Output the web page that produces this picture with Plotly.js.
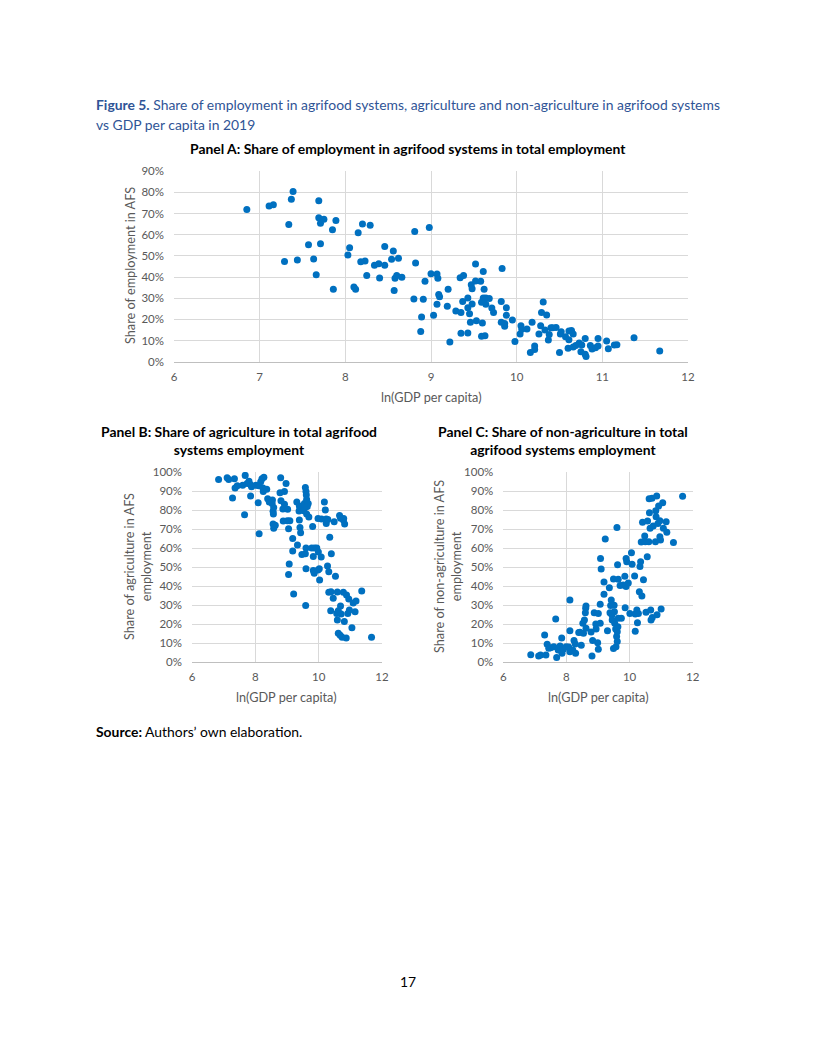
<!DOCTYPE html>
<html>
<head>
<meta charset="utf-8">
<script src="https://cdn.plot.ly/plotly-3.0.1.min.js"></script>
<style>
html,body{margin:0;padding:0;background:#fff;}
#chart{width:816px;height:1056px;}
</style>
</head>
<body>
<div id="chart"></div>
<script>
// Panel A: share of employment in AFS in total employment (%), vs ln(GDP per capita)
const panelA_x = [6.85,7.11,7.16,7.39,7.37,7.34,7.29,7.44,7.57,7.63,7.66,7.69,7.69,7.71,7.75,7.71,7.85,7.89,7.86,8.03,8.05,8.15,8.20,8.29,8.18,8.23,8.10,8.12,8.25,8.34,8.39,8.40,8.46,8.46,8.56,8.54,8.62,8.58,8.60,8.66,8.57,8.81,8.82,8.80,
8.98,9.00,9.07,9.08,8.93,8.91,8.89,8.88,9.03,9.07,9.09,9.10,9.20,9.19,9.22,9.29,9.35,9.34,9.38,9.37,9.43,9.43,9.45,9.48,9.47,9.48,9.52,9.52,9.58,9.61,9.62,9.61,9.64,9.59,9.64,9.68,9.71,9.73,9.46,9.53,9.60,9.35,9.43,9.59,9.63,9.82,9.83,9.88,9.88,9.82,9.86,9.86,9.95,9.98,10.05,10.04,10.06,10.12,10.18,10.16,10.21,10.21,10.26,10.31,10.29,10.35,10.28,10.33,10.40,10.37,10.38,10.42,10.46,10.51,10.52,10.50,10.57,10.61,10.64,10.66,10.61,10.60,10.66,10.69,10.73,10.75,10.76,10.80,10.81,10.80,10.86,10.88,10.92,10.95,10.95,11.05,11.07,11.14,11.17,11.37,11.67];
const panelA_y = [72.0,73.6,74.2,80.5,76.8,64.9,47.4,48.1,55.3,48.5,41.1,76.1,68.1,65.4,67.3,55.8,62.4,66.8,34.2,50.4,53.9,61.0,65.1,64.5,47.3,47.6,35.3,34.2,40.7,45.6,46.3,39.6,54.5,45.6,52.3,48.4,48.9,39.4,40.7,39.9,33.6,61.5,46.7,29.6,
63.4,41.6,41.5,39.4,38.0,29.5,21.1,14.3,21.9,27.1,31.8,30.7,34.2,26.2,9.3,24.0,23.3,39.7,40.8,28.5,30.1,25.5,22.7,27.3,36.4,34.5,46.2,38.1,38.0,42.6,34.2,30.1,30.1,28.1,27.1,29.9,25.4,23.2,18.6,19.4,18.3,13.4,13.6,12.0,12.3,28.4,44.1,25.5,21.9,18.6,18.1,16.7,19.7,9.5,17.0,13.1,15.3,15.4,18.6,4.3,7.4,5.8,13.1,28.2,23.3,22.1,17.0,15.0,16.1,10.2,12.8,16.1,16.2,13.1,14.2,4.4,11.8,14.5,14.7,13.1,10.4,6.3,6.9,7.7,8.8,4.7,7.9,11.0,2.4,3.5,7.6,6.0,6.6,7.4,11.0,9.8,6.1,7.9,8.0,11.3,5.0];

// Panel B: share of agriculture in total AFS employment (%)
const panelB_x = [6.84,7.11,7.16,7.34,7.28,7.36,7.43,7.68,7.66,7.60,7.74,7.80,7.86,7.88,7.85,8.02,8.11,8.09,8.12,8.17,8.21,8.27,8.24,8.25,8.36,8.39,8.44,8.53,8.54,8.56,8.58,8.57,8.56,8.63,8.58,8.80,8.97,8.78,8.92,8.81,8.92,8.87,9.02,8.88,9.01,9.09,9.05,9.07,9.05,9.18,9.18,9.21,9.33,9.31,9.39,9.38,9.39,9.41,9.43,9.47,9.45,9.49,9.53,9.55,9.58,9.60,9.61,9.62,9.64,9.62,9.58,9.60,9.59,9.60,9.67,9.69,9.81,9.78,9.83,9.87,9.83,9.86,9.94,9.99,9.98,10.02,10.03,9.98,10.09,10.08,10.18,10.21,10.24,10.24,10.29,10.28,10.32,10.35,10.32,10.40,10.39,10.38,10.46,10.49,10.53,10.59,10.57,10.59,10.62,10.62,10.66,10.69,10.69,10.71,10.68,10.74,10.78,10.82,10.79,10.78,10.81,10.87,10.88,10.92,10.95,10.97,11.05,11.09,11.15,11.18,11.36,11.67];
const panelB_y = [96.1,97.0,96.0,96.5,86.3,91.6,92.8,98.2,77.6,93.0,94.0,95.1,93.2,92.3,87.4,93.0,92.8,83.9,67.6,94.9,96.5,97.2,91.6,89.7,90.9,86.0,84.2,83.5,85.3,79.4,81.4,77.9,72.7,72.0,70.4,97.0,94.0,89.1,89.7,84.9,83.0,80.6,80.4,74.3,74.4,74.4,70.2,51.7,46.1,65.0,58.5,35.9,61.6,84.2,82.1,79.5,74.8,70.9,68.1,56.7,81.4,82.1,79.6,83.5,91.9,89.8,87.9,85.6,81.8,77.9,57.0,60.0,29.8,49.2,83.4,76.4,71.3,60.0,55.6,60.0,48.2,46.8,60.1,58.0,48.5,49.2,43.3,75.5,75.3,55.3,84.2,80.0,75.3,73.0,75.1,50.6,47.6,65.7,36.8,57.1,37.1,27.1,33.6,73.9,45.2,36.9,25.7,22.2,15.2,27.1,77.2,75.7,29.6,25.4,14.2,13.1,74.8,72.7,75.5,36.8,21.5,12.8,35.4,25.7,33.3,27.5,18.2,31.2,26.6,32.2,37.5,13.1];

// Panel C: share of non-agriculture in total AFS employment (%)
const panelC_x = [6.87,7.12,7.18,7.31,7.35,7.39,7.44,7.50,7.66,7.60,7.69,7.74,7.80,7.85,7.86,7.90,7.99,8.11,8.11,8.07,8.11,8.20,8.24,8.29,8.28,8.39,8.43,8.47,8.52,8.57,8.60,8.61,8.62,8.54,8.62,8.78,8.81,8.83,8.88,8.93,8.99,8.94,9.01,9.01,9.07,9.07,9.08,9.10,9.19,9.19,9.23,9.30,9.36,9.38,9.40,9.42,9.44,9.45,9.49,9.49,9.51,9.52,9.53,9.56,9.57,9.59,9.61,9.61,9.63,9.64,9.60,9.62,9.64,9.70,9.74,9.80,9.85,9.86,9.89,9.89,9.91,9.96,10.01,10.06,10.08,10.16,10.18,10.18,10.23,10.25,10.28,10.31,10.33,10.35,10.37,10.39,10.41,10.44,10.48,10.50,10.52,10.56,10.57,10.61,10.62,10.63,10.65,10.67,10.68,10.71,10.72,10.75,10.82,10.83,10.84,10.86,10.87,10.90,10.92,10.96,10.96,10.98,11.00,11.05,11.07,11.16,11.18,11.39,11.68];
const panelC_y = [4.0,3.3,3.9,14.4,3.9,9.5,7.4,7.7,22.8,8.2,2.5,6.5,8.6,12.8,4.7,6.8,8.2,32.7,16.6,8.1,5.6,6.5,11.4,4.7,9.6,15.6,15.8,8.9,20.5,22.2,26.1,28.4,29.6,15.2,17.9,15.9,3.3,11.4,26.1,20.1,10.3,17.5,25.7,6.8,20.5,30.5,54.6,49.0,42.2,35.7,64.8,16.6,39.2,26.1,29.9,32.7,24.9,22.2,43.8,7.2,30.0,26.6,20.5,17.5,8.2,13.5,16.1,10.9,18.7,23.1,70.8,51.3,43.6,40.3,23.1,40.6,45.2,28.7,39.8,54.5,52.9,41.7,25.6,57.6,51.5,45.4,25.4,16.3,27.5,20.8,25.6,37.1,50.3,52.9,63.2,34.8,73.6,43.4,66.4,63.4,26.3,55.5,74.3,63.4,86.0,78.6,70.4,27.5,22.2,86.2,23.5,71.6,63.4,79.7,76.5,87.4,25.0,73.0,82.1,74.4,66.0,64.3,28.0,83.9,70.4,73.9,68.3,63.0,87.2];

const xTicks = [6,7,8,9,10,11,12];
const xTicksBC = [6,8,10,12];

const FONT = 'Lato, "Open Sans", sans-serif';
const GRID = '#d9d9d9';
const TICKC = '#595959';
const DOT = '#0070C0';

function W(px){return px/816;}
function H(py){return 1-py/1056;}

const marker = {color: DOT, size: 7};
const traces = [
  {x: panelA_x, y: panelA_y, type:'scatter', mode:'markers', marker: marker, xaxis:'x', yaxis:'y', hoverinfo:'x+y'},
  {x: panelB_x, y: panelB_y, type:'scatter', mode:'markers', marker: marker, xaxis:'x2', yaxis:'y2', hoverinfo:'x+y'},
  {x: panelC_x, y: panelC_y, type:'scatter', mode:'markers', marker: marker, xaxis:'x3', yaxis:'y3', hoverinfo:'x+y'}
];

function xax(domain, anchor, range, ticks){
  return {domain: domain, anchor: anchor, range: range, tickvals: ticks, ticktext: ticks.map(String),
    showgrid:true, gridcolor:GRID, gridwidth:1, zeroline:false, showline:true, linecolor:'#bfbfbf', linewidth:1, mirror:false,
    ticks:'', ticklabelstandoff:4, tickfont:{family:FONT,size:11.5,color:TICKC}, fixedrange:true};
}
function yax(domain, anchor, range, dtick){
  return {domain: domain, anchor: anchor, range: range, dtick: dtick, tick0:0, ticksuffix:'%',
    showgrid:true, gridcolor:GRID, gridwidth:1, zeroline:false, showline:false,
    ticks:'', ticklabelstandoff:9, tickfont:{family:FONT,size:11.5,color:TICKC}, fixedrange:true};
}

const TS = 13.9;
const AS = 12.7;
const layout = {
  width:816, height:1056, margin:{l:0,r:0,t:0,b:0}, paper_bgcolor:'#fff', plot_bgcolor:'#fff',
  showlegend:false, font:{family:FONT},
  xaxis: xax([W(174),W(688)], 'y', [6,12], xTicks),
  yaxis: yax([H(361.7),H(171.3)], 'x', [0,90], 10),
  xaxis2: xax([W(192),W(382)], 'y2', [6,12], xTicksBC),
  yaxis2: yax([H(662.3),H(472)], 'x2', [0,100], 10),
  xaxis3: xax([W(503.3),W(692.7)], 'y3', [6,12], xTicksBC),
  yaxis3: yax([H(662.3),H(472)], 'x3', [0,100], 10),
  annotations: [
    {xref:'paper',yref:'paper',x:W(94),y:H(104),xanchor:'left',yanchor:'middle',showarrow:false,
     text:'<b>Figure 5.</b> Share of employment in agrifood systems, agriculture and non-agriculture in agrifood systems',
     font:{family:FONT,size:TS,color:'#2f5496'}},
    {xref:'paper',yref:'paper',x:W(94),y:H(124),xanchor:'left',yanchor:'middle',showarrow:false,
     text:'vs GDP per capita in 2019', font:{family:FONT,size:TS,color:'#2f5496'}},
    {xref:'paper',yref:'paper',x:W(408),y:H(148),xanchor:'center',yanchor:'middle',showarrow:false,
     text:'<b>Panel A: Share of employment in agrifood systems in total employment</b>', font:{family:FONT,size:TS,color:'#000'}},
    {xref:'paper',yref:'paper',x:W(431),y:H(397),xanchor:'center',yanchor:'middle',showarrow:false,
     text:'ln(GDP per capita)', font:{family:FONT,size:AS,color:TICKC}},
    {xref:'paper',yref:'paper',x:W(130),y:H(266),xanchor:'center',yanchor:'middle',showarrow:false,textangle:-90,
     text:'Share of employment in AFS', font:{family:FONT,size:AS,color:TICKC}},
    {xref:'paper',yref:'paper',x:W(239),y:H(440),xanchor:'center',yanchor:'middle',showarrow:false,
     text:'<b>Panel B: Share of agriculture in total agrifood<br>systems employment</b>', font:{family:FONT,size:TS,color:'#000'}},
    {xref:'paper',yref:'paper',x:W(563),y:H(440),xanchor:'center',yanchor:'middle',showarrow:false,
     text:'<b>Panel C: Share of non-agriculture in total<br>agrifood systems employment</b>', font:{family:FONT,size:TS,color:'#000'}},
    {xref:'paper',yref:'paper',x:W(137),y:H(567),xanchor:'center',yanchor:'middle',showarrow:false,textangle:-90,
     text:'Share of agriculture in AFS<br>employment', font:{family:FONT,size:AS,color:TICKC}},
    {xref:'paper',yref:'paper',x:W(447),y:H(567),xanchor:'center',yanchor:'middle',showarrow:false,textangle:-90,
     text:'Share of non-agriculture in AFS<br>employment', font:{family:FONT,size:AS,color:TICKC}},
    {xref:'paper',yref:'paper',x:W(286),y:H(697),xanchor:'center',yanchor:'middle',showarrow:false,
     text:'ln(GDP per capita)', font:{family:FONT,size:AS,color:TICKC}},
    {xref:'paper',yref:'paper',x:W(598),y:H(697),xanchor:'center',yanchor:'middle',showarrow:false,
     text:'ln(GDP per capita)', font:{family:FONT,size:AS,color:TICKC}},
    {xref:'paper',yref:'paper',x:W(94),y:H(731),xanchor:'left',yanchor:'middle',showarrow:false,
     text:'<b>Source:</b> Authors\u2019 own elaboration.', font:{family:FONT,size:TS,color:'#000'}},
    {xref:'paper',yref:'paper',x:W(408),y:H(981),xanchor:'center',yanchor:'middle',showarrow:false,
     text:'17', font:{family:FONT,size:TS,color:'#000'}}
  ]
};

Plotly.newPlot('chart', traces, layout, {staticPlot:true, displayModeBar:false});
</script>
</body>
</html>
